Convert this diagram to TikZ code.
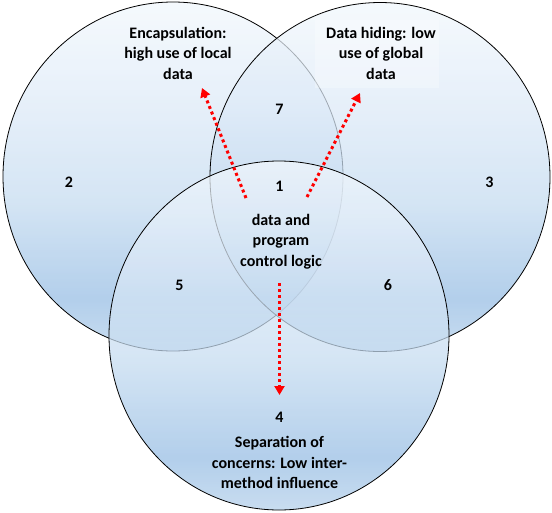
\documentclass[tikz,border=0pt]{standalone}
\usepackage{fontspec}
\setmainfont{Carlito}
\usetikzlibrary{arrows.meta,shapes.geometric}
\definecolor{vtop}{HTML}{F1F7FC}
\definecolor{vup}{HTML}{DCE9F7}
\definecolor{vmidl}{HTML}{C4DBF0}
\definecolor{vmid}{HTML}{95BCE3}
\definecolor{vbot}{HTML}{B3CFEA}
\pgfdeclareverticalshading{vennshade}{100bp}{color(0bp)=(vbot); color(25bp)=(vbot); color(32.5bp)=(vmid); color(46.5bp)=(vmidl); color(60bp)=(vup); color(75bp)=(vtop); color(100bp)=(vtop)}
\tikzset{
  venn/.style={ellipse, draw=black, line width=0.8pt, shading=vennshade, fill opacity=0.72, inner sep=0pt, outer sep=0pt, minimum width=340pt, minimum height=349pt},
  lbl/.style={font=\fontsize{16}{20.5}\selectfont\bfseries, align=center, inner sep=0pt, text=black},
  arrowline/.style={red, line width=3pt, dash pattern=on 3pt off 3pt, -{Triangle[width=10pt,length=9pt]}}
}
\begin{document}
\begin{tikzpicture}[x=1pt,y=-1pt]
\useasboundingbox (0,0) rectangle (552,512);
\node[venn] (L) at (173,176.5) {};
\node[venn] (R) at (380,177) {};
\node[venn] (B) at (279,335.5) {};
% labels
\node[fill=white, fill opacity=0.28, inner sep=0pt, minimum width=124pt, minimum height=68pt] (hidbox) at (377,54) {};
\node[lbl] (enc) at (178,53) {Encapsulation:\\high use of local\\data};
\node[lbl] (hid) at (381,53) {Data hiding: low\\use of global\\data};
\node[lbl] (n7) at (279.5,109) {7};
\node[lbl] (n1) at (279.5,186.5) {1};
\node[lbl] (core) at (281,241.5) {data and\\program\\control logic};
\node[lbl] (n2) at (69,182) {2};
\node[lbl] (n3) at (489.5,182) {3};
\node[lbl] (n5) at (179.5,285) {5};
\node[lbl] (n6) at (388,285) {6};
\node[lbl] (n4) at (279.5,417.5) {4};
\node[lbl] (sep) at (279.5,462.5) {Separation of\\concerns: Low inter-\\method influence};
% arrow ends
\coordinate (a1s) at (246,198);
\coordinate (a1e) at (202,88);
\coordinate (a2s) at (307,197);
\coordinate (a2e) at (360,93);
\coordinate (a3s) at (279.5,283);
\coordinate (a3e) at (279.5,395);
\draw[arrowline] (a1s) -- (a1e);
\draw[arrowline] (a2s) -- (a2e);
\draw[arrowline] (a3s) -- (a3e);
\end{tikzpicture}
\end{document}
